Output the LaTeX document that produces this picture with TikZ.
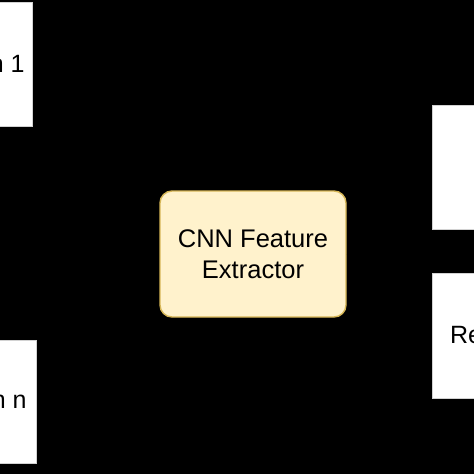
\documentclass[tikz,border=0pt]{standalone}
\usepackage{fontspec}
\setmainfont{Liberation Sans}
\usepackage{tikz}
\usetikzlibrary{calc,positioning,shapes}

\definecolor{cnnfill}{HTML}{FFF2CC}
\definecolor{cnnline}{HTML}{D6B656}

\begin{document}
\begin{tikzpicture}
[
	x	= 1pt,	% one unit is one pixel of the picture
	y	= -1pt,	% y runs downwards, as in the picture
	inbox/.style	= {draw=gray!35, fill=white, line width=0.6pt, inner sep=0pt, font=\fontsize{25}{31}\selectfont},
	cnnbox/.style	= {draw=cnnline, fill=cnnfill, line width=1.4pt, rounded corners=12pt, align=center, inner sep=0pt, minimum width=186pt, minimum height=126pt, font=\fontsize{25.5}{31}\selectfont},
]

\useasboundingbox (0,0) rectangle (474,474);
\clip (0,0) rectangle (474,474);
\fill [black] (0,0) rectangle (474,474);

% inputs, cut by the left edge
\node [inbox, minimum width=50.6pt, minimum height=124pt] (in1) at (7.2,64) {n 1};
\node [inbox, minimum width=54.4pt, minimum height=123pt] (inn) at (9.3,401.5) {n n};

% feature extractor
\node [cnnbox] (cnn) at (253,254) {CNN Feature\\Extractor};

% outputs, cut by the right edge
\node [inbox, minimum width=80pt, minimum height=124pt] (out1) at (472.5,167) {};
\node [inbox, minimum width=67pt, minimum height=125pt] (out2) at (466,335.5) {Re};

\coordinate (split) at ($(cnn.east)+(40,0)$);
\draw [-, color=black, thick] (cnn.east) -- (split);
\draw [-, color=black, thick] (split) |- (out1.west);
\draw [-, color=black, thick] (split) |- (out2.west);

\end{tikzpicture}
\end{document}
